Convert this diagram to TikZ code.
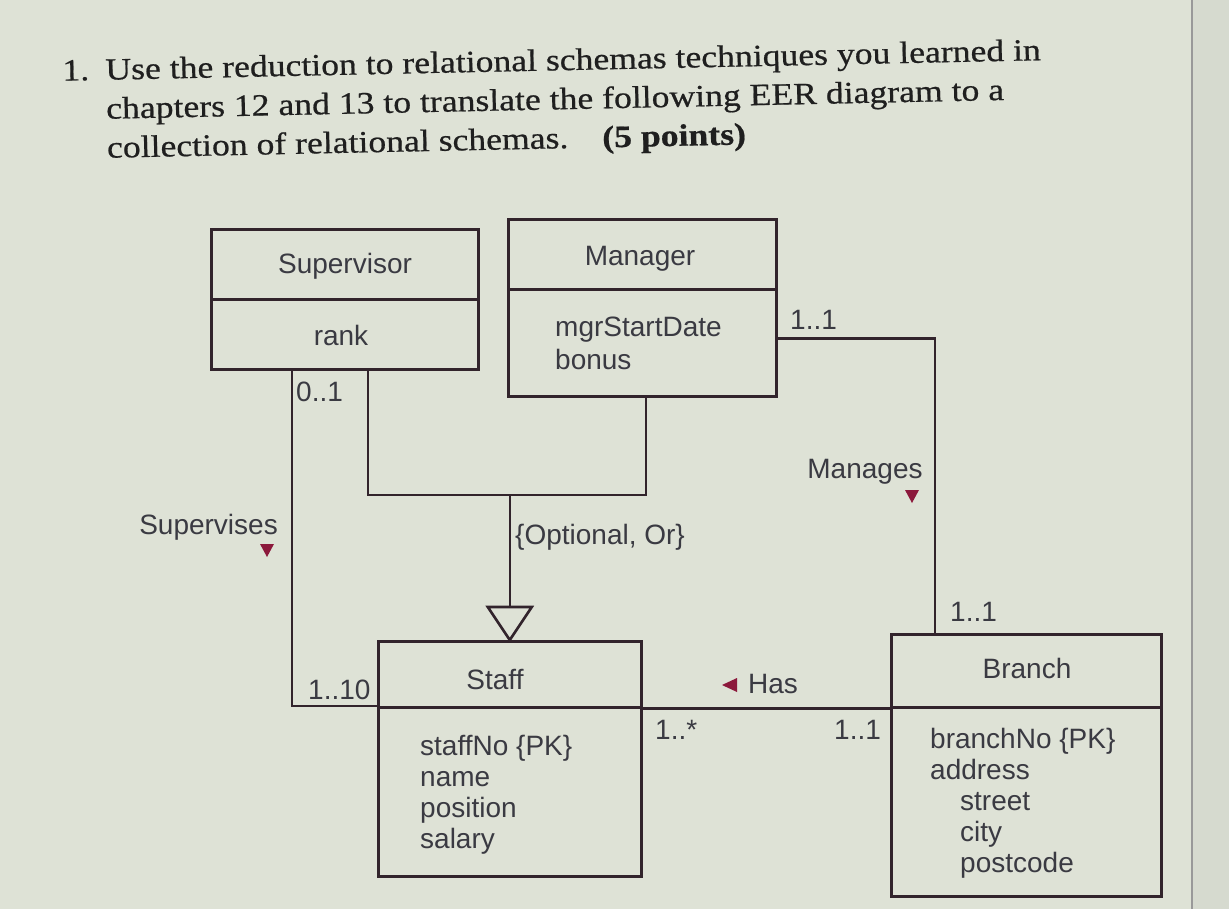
\documentclass[tikz,border=0pt]{standalone}
\usepackage{fontspec}
\setmainfont{Liberation Sans}
\newfontfamily\titlefont[FakeStretch=1.15,FakeBold=0.6]{Liberation Serif}
\usetikzlibrary{calc}
\definecolor{bg}{RGB}{222,226,214}
\definecolor{ink}{RGB}{50,36,44}
\definecolor{txt}{RGB}{58,58,66}
\definecolor{mark}{RGB}{140,25,60}
\begin{document}
\begin{tikzpicture}[x=1pt,y=-1pt,
  box/.style={draw=ink, line width=2.6pt, inner sep=0pt, anchor=north west},
  lbl/.style={text=txt, font=\fontsize{28}{32}\selectfont, inner sep=0pt},
  attr/.style={lbl, anchor=base west},
  mult/.style={lbl, anchor=west},
  conn/.style={draw=ink, line width=2.6pt},
  ttl/.style={text=black!88, font=\titlefont\fontsize{31}{39}\selectfont, inner sep=0pt, anchor=north west, align=left, rotate=1.2},
  marker/.style={fill=mark}]
% background
\fill[bg] (0,0) rectangle (1229,909);
\useasboundingbox (0,0) rectangle (1229,909);
\fill[bg!92!gray] (1192,0) rectangle (1229,909);
\draw[gray!80, line width=1.5pt] (1192,0) -- (1192,909);

% title
\node[ttl] (title) at (62,59) {\makebox[43pt][l]{1.}Use the reduction to relational schemas techniques you learned in\\
\hspace*{43pt}chapters 12 and 13 to translate the following EER diagram to a\\
\hspace*{43pt}collection of relational schemas.\hspace{1.1em}\textbf{(5 points)}};

% boxes
\node[box, minimum width=267pt, minimum height=70pt] (sup1) at (210,228) {};
\node[box, minimum width=267pt, minimum height=70pt] (sup2) at (210,298) {};
\node[box, minimum width=268pt, minimum height=70pt] (mgr1) at (507,218) {};
\node[box, minimum width=268pt, minimum height=107pt] (mgr2) at (507,288) {};
\node[box, minimum width=263pt, minimum height=66pt] (staff1) at (377,640) {};
\node[box, minimum width=263pt, minimum height=169pt] (staff2) at (377,706) {};
\node[box, minimum width=270pt, minimum height=73pt] (br1) at (890,633) {};
\node[box, minimum width=270pt, minimum height=189pt] (br2) at (890,706) {};

% box texts
\node[lbl] (supN) at (345,266) {Supervisor};
\node[lbl] (rankN) at (341,335) {rank};
\node[lbl] (mgrN) at (640,259) {Manager};
\node[attr] (mA1) at (555,337) {mgrStartDate};
\node[attr] (mA2) at (555,369) {bonus};
\node[lbl] (stN) at (495,680) {Staff};
\node[attr] (sA1) at (420,755) {staffNo \{PK\}};
\node[attr] (sA2) at (420,786) {name};
\node[attr] (sA3) at (420,817) {position};
\node[attr] (sA4) at (420,848) {salary};
\node[lbl] (brN) at (1027,668) {Branch};
\node[attr] (bA1) at (930,748) {branchNo \{PK\}};
\node[attr] (bA2) at (930,779) {address};
\node[attr] (bA3) at (960,810) {street};
\node[attr] (bA4) at (960,841) {city};
\node[attr] (bA5) at (960,872) {postcode};

% Supervises
\draw[conn] ([xshift=82pt]sup2.south west) |- (staff2.north west);
\node[lbl, anchor=east] (supvL) at (278,527) {Supervises};
\fill[marker] (260,544) -- (274,544) -- (267,557) -- cycle;
\node[mult] (m01) at (296,392) {0..1};
\node[mult] (m110) at (308,690) {1..10};

% generalization
\coordinate (hy) at (0,495);
\coordinate (gl) at ([xshift=158pt]sup2.south west);
\coordinate (gr) at ([xshift=139pt]mgr2.south west);
\draw[conn] (gl) -- (gl |- hy) -- (gr |- hy) -- (gr);
\coordinate (tt) at ([yshift=33pt]staff1.north);
\draw[conn] (tt) -- (tt |- hy);
\draw[conn, line join=miter, fill=bg] (staff1.north) -- ([xshift=-22pt]tt) -- ([xshift=22pt]tt) -- cycle;
\node[mult] (optL) at (515,537) {\{Optional, Or\}};

% Manages
\draw[conn] ([yshift=4pt]mgr2.east) -| ([xshift=45pt]br1.north west);
\node[lbl] (manL) at (865,472) {Manages};
\fill[marker] (905,490) -- (919,490) -- (912,503) -- cycle;
\node[mult] (m11a) at (790,320) {1..1};
\node[mult] (m11b) at (950,612) {1..1};

% Has
\draw[conn] (staff1.south east) -- (br1.south west);
\fill[marker] (722,685) -- (737,678) -- (737,692) -- cycle;
\node[mult] (hasL) at (748,684) {Has};
\node[mult] (m1s) at (655,730) {1..*};
\node[mult] (m11c) at (834,730) {1..1};
\end{tikzpicture}
\end{document}
